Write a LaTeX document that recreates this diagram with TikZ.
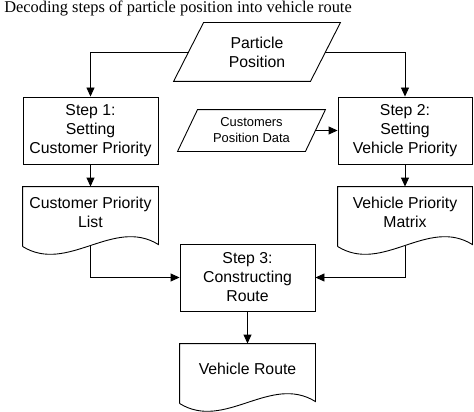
\documentclass[tikz,border=0pt]{standalone}
\usepackage{fontspec}
\setmainfont{Liberation Sans}
\newfontfamily\captionserif{Liberation Serif}
\usetikzlibrary{arrows.meta,calc}

% outline of a document symbol round a node, wavy bottom
\newcommand{\docoutline}[1]{%
  \coordinate (#1-sw) at ($(#1.south west)+(0,9)$);
  \coordinate (#1-wave) at ($(#1.south)+(0,8.5)$);
  \draw (#1-sw) -- (#1.north west) -- (#1.north east) -- ++(0,58)
    .. controls +(-45,-28) and +(45,28) .. (#1-sw);}
% outline of a data symbol (parallelogram) round a node
\newcommand{\slantoutline}[2]{%
  \draw ([xshift=#2]#1.north west) -- ([xshift=#2]#1.north east)
    -- ([xshift=-#2]#1.south east) -- ([xshift=-#2]#1.south west) -- cycle;}

\begin{document}
\begin{tikzpicture}[x=1pt,y=-1pt,line width=0.9pt,>={Triangle[length=9pt,width=8pt]}]
        \tikzset{stepbox/.style={draw,minimum width=135pt,minimum height=67pt,inner sep=0pt,
                align=center,font=\fontsize{15.8}{19}\selectfont},
            docbox/.style={minimum width=135pt,minimum height=50pt,inner sep=0pt,
                align=center,font=\fontsize{15.8}{19}\selectfont},
            databox/.style={inner sep=0pt,align=center}}
        \useasboundingbox (0,0) rectangle (474,412);
        \clip (0,0) rectangle (474,412);

        \node[anchor=base west,font=\captionserif\fontsize{16.4}{20}\selectfont] (caption) at (0.5,12.5)
            {Decoding steps of particle position into vehicle route};

        \node[databox,minimum width=136pt,minimum height=58pt,
            font=\fontsize{15.8}{19}\selectfont] (particle) at (257,52) {Particle\\Position};
        \node[stepbox] (step1) at (90.5,130.5) {Step 1:\\Setting\\Customer Priority};
        \node[stepbox,minimum width=134pt] (step2) at (405,130.5) {Step 2:\\Setting\\Vehicle Priority};
        \node[databox,minimum width=127pt,minimum height=41pt,
            font=\fontsize{12.9}{16}\selectfont] (custdata) at (251.5,130.5) {Customers\\Position Data};
        \node[docbox] (custlist) at (90.5,212) {Customer Priority\\List};
        \node[docbox,minimum width=134pt] (vehmatrix) at (405,212) {Vehicle Priority\\Matrix};
        \node[stepbox] (step3) at (247.5,277.5) {Step 3:\\Constructing\\Route};
        \node[docbox] (route) at (247.5,369) {Vehicle Route};

        \slantoutline{particle}{15}
        \slantoutline{custdata}{10}
        \docoutline{custlist}
        \docoutline{vehmatrix}
        \docoutline{route}

        \draw[->] (particle.west) -| (step1.north);
        \draw[->] (particle.east) -| (step2.north);
        \draw[->] (custdata.east) -- (step2.west);
        \draw[->] (step1.south) -- (custlist.north);
        \draw[->] (step2.south) -- (vehmatrix.north);
        \draw[->] (custlist-wave) |- (step3.west);
        \draw[->] (vehmatrix-wave) |- (step3.east);
        \draw[->] (step3.south) -- (route.north);
    \end{tikzpicture}
\end{document}
